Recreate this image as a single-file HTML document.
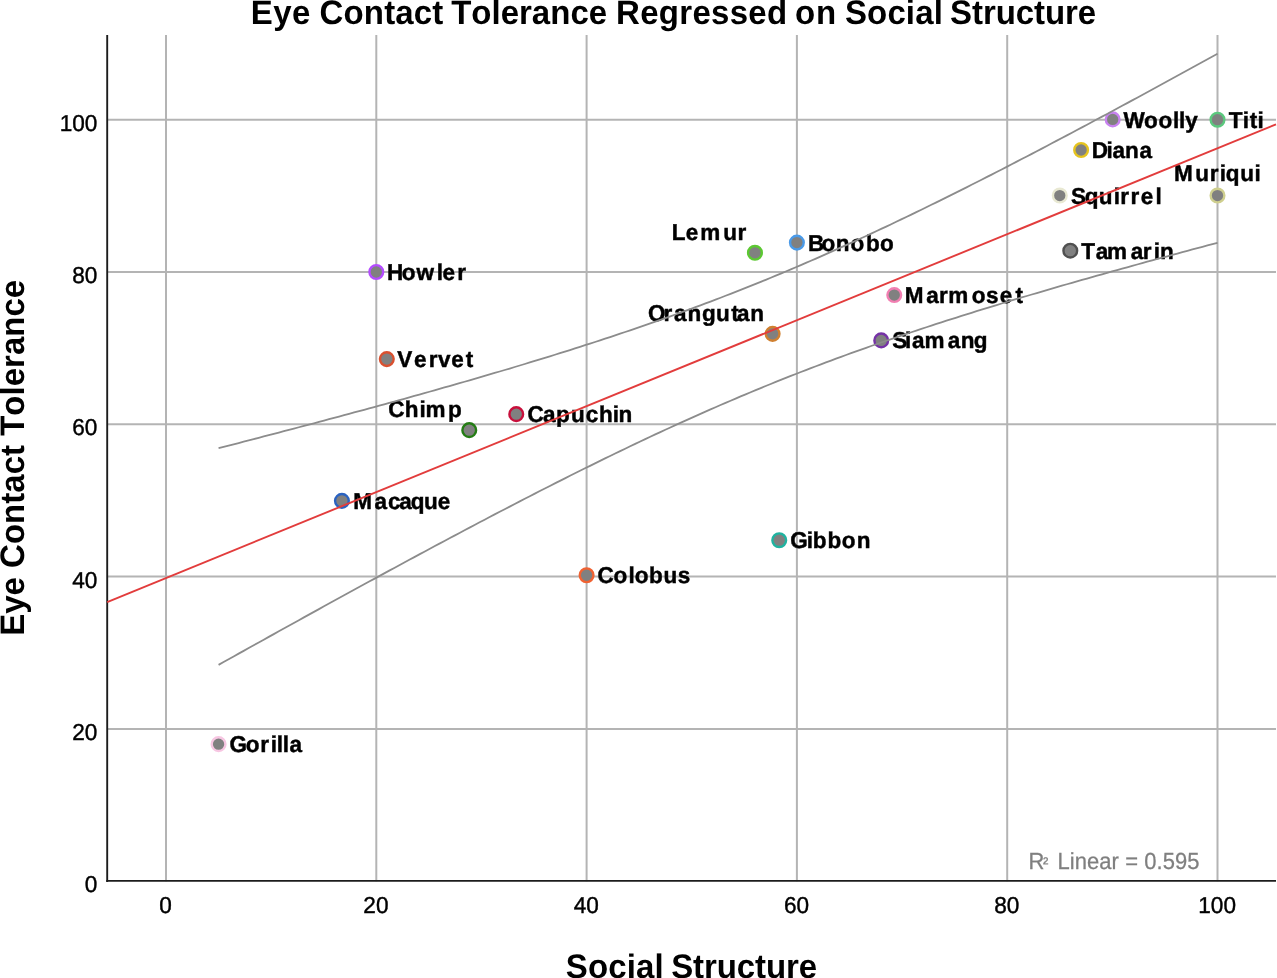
<!DOCTYPE html><html><head><meta charset="utf-8"><title>Eye Contact Tolerance Regressed on Social Structure</title>
<style>html,body{margin:0;padding:0;background:#fff;width:1277px;height:978px;overflow:hidden}svg{display:block}text{font-family:"Liberation Sans",Arial,sans-serif;text-rendering:geometricPrecision;font-kerning:none;font-variant-ligatures:none}</style></head><body>
<svg width="1277" height="978" viewBox="0 0 1277 978">
<rect width="1277" height="978" fill="#fff"/>
<text transform="translate(0,24.3) scale(1,1.03)" font-size="33" font-weight="bold"><tspan x="250.85" letter-spacing="0.429">Eye</tspan> <tspan x="319.55" letter-spacing="0.154">Contact</tspan> <tspan x="451.13" letter-spacing="0.013">Tolerance</tspan> <tspan x="616.09" letter-spacing="0.291">Regressed</tspan> <tspan x="795.01" letter-spacing="0.920">on</tspan> <tspan x="844.95" letter-spacing="0.135">Social</tspan> <tspan x="950.05" letter-spacing="-0.065">Structure</tspan></text>
<g stroke="#b4b4b4" stroke-width="2.0" fill="none"><line x1="166.00" y1="35.0" x2="166.00" y2="881.20"/><line x1="376.30" y1="35.0" x2="376.30" y2="881.20"/><line x1="586.60" y1="35.0" x2="586.60" y2="881.20"/><line x1="796.90" y1="35.0" x2="796.90" y2="881.20"/><line x1="1007.20" y1="35.0" x2="1007.20" y2="881.20"/><line x1="1217.50" y1="35.0" x2="1217.50" y2="881.20"/><line x1="107" y1="728.90" x2="1276.0" y2="728.90"/><line x1="107" y1="576.60" x2="1276.0" y2="576.60"/><line x1="107" y1="424.30" x2="1276.0" y2="424.30"/><line x1="107" y1="272.00" x2="1276.0" y2="272.00"/><line x1="107" y1="119.70" x2="1276.0" y2="119.70"/></g>
<g stroke="#1c1c1c" stroke-width="1.9" fill="none"><line x1="107.2" y1="35.0" x2="107.2" y2="882.10"/><line x1="106.3" y1="880.90" x2="1276.0" y2="880.90"/></g>
<g font-size="22.6" fill="#000" stroke="#000" stroke-width="0.4"><text transform="translate(84.81,892.35) scale(1,1.02)">0</text><text transform="translate(72.24,740.05) scale(1,1.02)">20</text><text transform="translate(72.24,587.75) scale(1,1.02)">40</text><text transform="translate(72.24,435.45) scale(1,1.02)">60</text><text transform="translate(72.24,283.15) scale(1,1.02)">80</text><text transform="translate(59.68,130.85) scale(1,1.02)">100</text><text transform="translate(165.60,913.25) scale(1,1.02)" text-anchor="middle">0</text><text transform="translate(375.90,913.25) scale(1,1.02)" text-anchor="middle">20</text><text transform="translate(586.20,913.25) scale(1,1.02)" text-anchor="middle">40</text><text transform="translate(796.50,913.25) scale(1,1.02)" text-anchor="middle">60</text><text transform="translate(1006.80,913.25) scale(1,1.02)" text-anchor="middle">80</text><text transform="translate(1217.10,913.25) scale(1,1.02)" text-anchor="middle">100</text></g>
<text transform="translate(0,977.7) scale(1,1.03)" font-size="33" font-weight="bold"><tspan x="565.85" letter-spacing="0.115">Social</tspan> <tspan x="671.15" letter-spacing="-0.090">Structure</tspan></text>
<text transform="translate(24.1,635.81) rotate(-90) scale(1,1.03)" font-size="33" font-weight="bold" letter-spacing="0.008"><tspan x="0.00">Eye</tspan> <tspan x="67.92">Contact</tspan> <tspan x="199.98">Tolerance</tspan></text>
<g><circle cx="218.57" cy="744.13" r="6.85" fill="#808080" stroke="#f7c6e2" stroke-width="2.4"/><circle cx="341.92" cy="500.83" r="6.85" fill="#808080" stroke="#2a62c0" stroke-width="2.4"/><circle cx="376.30" cy="272.00" r="6.85" fill="#808080" stroke="#b44cff" stroke-width="2.4"/><circle cx="386.81" cy="359.12" r="6.85" fill="#808080" stroke="#d9502f" stroke-width="2.4"/><circle cx="469.25" cy="430.16" r="6.85" fill="#808080" stroke="#247c14" stroke-width="2.4"/><circle cx="516.25" cy="414.17" r="6.85" fill="#808080" stroke="#c8103c" stroke-width="2.4"/><circle cx="586.60" cy="575.23" r="6.85" fill="#808080" stroke="#f06232" stroke-width="2.4"/><circle cx="779.23" cy="540.20" r="6.85" fill="#808080" stroke="#1fb3a0" stroke-width="2.4"/><circle cx="754.95" cy="252.81" r="6.85" fill="#808080" stroke="#5cc832" stroke-width="2.4"/><circle cx="796.90" cy="242.61" r="6.85" fill="#808080" stroke="#4a9ae8" stroke-width="2.4"/><circle cx="772.61" cy="333.83" r="6.85" fill="#808080" stroke="#d08030" stroke-width="2.4"/><circle cx="894.27" cy="295.07" r="6.85" fill="#808080" stroke="#f27fb2" stroke-width="2.4"/><circle cx="881.23" cy="340.38" r="6.85" fill="#808080" stroke="#7532a6" stroke-width="2.4"/><circle cx="1070.29" cy="250.68" r="6.85" fill="#808080" stroke="#505050" stroke-width="2.4"/><circle cx="1059.78" cy="195.55" r="6.85" fill="#808080" stroke="#e8e8d2" stroke-width="2.4"/><circle cx="1217.50" cy="195.55" r="6.85" fill="#808080" stroke="#cfcf8e" stroke-width="2.4"/><circle cx="1081.12" cy="150.01" r="6.85" fill="#808080" stroke="#e6c41e" stroke-width="2.4"/><circle cx="1112.67" cy="119.40" r="6.85" fill="#808080" stroke="#c882f0" stroke-width="2.4"/><circle cx="1217.50" cy="119.70" r="6.85" fill="#808080" stroke="#5cc87e" stroke-width="2.4"/></g>
<g fill="#000" font-size="22.5" font-weight="bold" stroke="#000" stroke-width="0.45"><text transform="translate(0,752.23) scale(1,1.02)" x="229.56 245.75 260.14 270.75 276.65 282.75 289.47">Gorilla</text><text transform="translate(0,508.93) scale(1,1.02)" x="353.28 374.57 387.95 399.37 410.70 423.93 437.75">Macaque</text><text transform="translate(0,280.10) scale(1,1.02)" x="386.88 401.75 416.54 436.85 442.55 457.14">Howler</text><text transform="translate(0,367.22) scale(1,1.02)" x="397.36 414.05 428.79 437.89 451.25 465.65">Vervet</text><text transform="translate(0,416.90) scale(1,1.02)" x="388.30 404.70 419.45 425.44 448.04">Chimp</text><text transform="translate(0,422.27) scale(1,1.02)" x="527.57 543.07 556.04 571.03 585.65 599.05 612.75 618.44">Capuchin</text><text transform="translate(0,583.33) scale(1,1.02)" x="597.59 613.55 628.45 634.65 648.94 663.53 677.83">Colobus</text><text transform="translate(0,548.30) scale(1,1.02)" x="790.33 806.85 812.84 827.44 841.85 856.74">Gibbon</text><text transform="translate(0,240.20) scale(1,1.02)" x="671.72 685.65 700.14 723.33 737.39">Lemur</text><text transform="translate(0,250.71) scale(1,1.02)" x="807.94 821.45 835.74 850.60 866.04 880.05">Bonobo</text><text transform="translate(0,321.30) scale(1,1.02)" x="647.96 663.49 673.97 687.54 702.10 716.08 731.15 737.07 750.24">Orangutan</text><text transform="translate(0,303.17) scale(1,1.02)" x="904.80 926.32 939.09 948.34 971.75 985.93 999.85 1015.55">Marmoset</text><text transform="translate(0,348.48) scale(1,1.02)" x="892.21 904.95 911.97 924.44 947.87 960.74 973.80">Siamang</text><text transform="translate(0,258.78) scale(1,1.02)" x="1081.19 1095.87 1107.04 1130.87 1142.74 1153.75 1160.04">Tamarin</text><text transform="translate(0,203.65) scale(1,1.02)" x="1071.00 1084.80 1098.73 1113.75 1120.34 1130.54 1140.65 1155.55">Squirrel</text><text transform="translate(0,180.80) scale(1,1.02)" x="1173.96 1195.33 1209.64 1219.65 1225.70 1240.33 1254.55">Muriqui</text><text transform="translate(0,158.11) scale(1,1.02)" x="1091.82 1106.45 1112.57 1124.94 1139.47">Diana</text><text transform="translate(0,127.50) scale(1,1.02)" x="1123.40 1144.05 1158.55 1172.95 1179.05 1185.25">Woolly</text><text transform="translate(0,127.80) scale(1,1.02)" x="1228.75 1242.85 1249.75 1257.55">Titi</text></g>
<g fill="none" stroke="#8c8c8c" stroke-width="1.8"><path d="M218.57,448.23 L223.59,446.93 L228.61,445.63 L233.63,444.33 L238.65,443.03 L243.67,441.72 L248.69,440.42 L253.71,439.11 L258.73,437.80 L263.75,436.49 L268.77,435.18 L273.79,433.86 L278.81,432.55 L283.83,431.23 L288.85,429.90 L293.87,428.58 L298.89,427.25 L303.91,425.92 L308.93,424.59 L313.95,423.26 L318.97,421.92 L323.99,420.58 L329.01,419.24 L334.03,417.90 L339.05,416.55 L344.07,415.20 L349.09,413.85 L354.11,412.49 L359.13,411.13 L364.15,409.77 L369.17,408.41 L374.19,407.04 L379.21,405.67 L384.23,404.29 L389.25,402.91 L394.27,401.53 L399.29,400.15 L404.30,398.76 L409.32,397.36 L414.34,395.97 L419.36,394.56 L424.38,393.16 L429.40,391.75 L434.42,390.33 L439.44,388.92 L444.46,387.49 L449.48,386.06 L454.50,384.63 L459.52,383.19 L464.54,381.75 L469.56,380.30 L474.58,378.85 L479.60,377.39 L484.62,375.93 L489.64,374.46 L494.66,372.98 L499.68,371.50 L504.70,370.01 L509.72,368.52 L514.74,367.01 L519.76,365.51 L524.78,363.99 L529.80,362.47 L534.82,360.94 L539.84,359.41 L544.86,357.87 L549.88,356.31 L554.90,354.76 L559.92,353.19 L564.94,351.62 L569.96,350.03 L574.98,348.44 L580.00,346.84 L585.01,345.23 L590.03,343.61 L595.05,341.99 L600.07,340.35 L605.09,338.70 L610.11,337.05 L615.13,335.38 L620.15,333.70 L625.17,332.02 L630.19,330.32 L635.21,328.61 L640.23,326.89 L645.25,325.16 L650.27,323.42 L655.29,321.66 L660.31,319.89 L665.33,318.12 L670.35,316.33 L675.37,314.52 L680.39,312.71 L685.41,310.88 L690.43,309.04 L695.45,307.18 L700.47,305.32 L705.49,303.44 L710.51,301.54 L715.53,299.64 L720.55,297.72 L725.57,295.78 L730.59,293.83 L735.61,291.87 L740.63,289.89 L745.65,287.90 L750.67,285.90 L755.69,283.88 L760.71,281.85 L765.72,279.80 L770.74,277.74 L775.76,275.67 L780.78,273.58 L785.80,271.47 L790.82,269.36 L795.84,267.22 L800.86,265.08 L805.88,262.92 L810.90,260.75 L815.92,258.56 L820.94,256.36 L825.96,254.14 L830.98,251.92 L836.00,249.68 L841.02,247.42 L846.04,245.16 L851.06,242.88 L856.08,240.59 L861.10,238.28 L866.12,235.96 L871.14,233.64 L876.16,231.29 L881.18,228.94 L886.20,226.58 L891.22,224.20 L896.24,221.81 L901.26,219.42 L906.28,217.01 L911.30,214.59 L916.32,212.16 L921.34,209.72 L926.36,207.27 L931.38,204.81 L936.40,202.34 L941.42,199.86 L946.43,197.37 L951.45,194.88 L956.47,192.37 L961.49,189.85 L966.51,187.33 L971.53,184.80 L976.55,182.26 L981.57,179.71 L986.59,177.16 L991.61,174.59 L996.63,172.02 L1001.65,169.45 L1006.67,166.86 L1011.69,164.27 L1016.71,161.67 L1021.73,159.07 L1026.75,156.46 L1031.77,153.84 L1036.79,151.22 L1041.81,148.59 L1046.83,145.95 L1051.85,143.31 L1056.87,140.67 L1061.89,138.01 L1066.91,135.36 L1071.93,132.69 L1076.95,130.03 L1081.97,127.36 L1086.99,124.68 L1092.01,122.00 L1097.03,119.31 L1102.05,116.62 L1107.07,113.93 L1112.09,111.23 L1117.11,108.52 L1122.13,105.82 L1127.14,103.11 L1132.16,100.39 L1137.18,97.67 L1142.20,94.95 L1147.22,92.22 L1152.24,89.49 L1157.26,86.76 L1162.28,84.03 L1167.30,81.29 L1172.32,78.54 L1177.34,75.80 L1182.36,73.05 L1187.38,70.30 L1192.40,67.54 L1197.42,64.79 L1202.44,62.03 L1207.46,59.26 L1212.48,56.50 L1217.50,53.73"/><path d="M218.57,664.86 L223.59,662.05 L228.61,659.25 L233.63,656.45 L238.65,653.64 L243.67,650.85 L248.69,648.05 L253.71,645.25 L258.73,642.46 L263.75,639.67 L268.77,636.88 L273.79,634.09 L278.81,631.30 L283.83,628.52 L288.85,625.74 L293.87,622.96 L298.89,620.18 L303.91,617.41 L308.93,614.63 L313.95,611.86 L318.97,609.10 L323.99,606.33 L329.01,603.57 L334.03,600.81 L339.05,598.05 L344.07,595.30 L349.09,592.55 L354.11,589.80 L359.13,587.06 L364.15,584.32 L369.17,581.58 L374.19,578.84 L379.21,576.11 L384.23,573.38 L389.25,570.66 L394.27,567.94 L399.29,565.22 L404.30,562.51 L409.32,559.80 L414.34,557.09 L419.36,554.39 L424.38,551.69 L429.40,549.00 L434.42,546.31 L439.44,543.62 L444.46,540.94 L449.48,538.27 L454.50,535.60 L459.52,532.93 L464.54,530.27 L469.56,527.62 L474.58,524.97 L479.60,522.32 L484.62,519.68 L489.64,517.05 L494.66,514.42 L499.68,511.80 L504.70,509.18 L509.72,506.58 L514.74,503.97 L519.76,501.38 L524.78,498.79 L529.80,496.21 L534.82,493.63 L539.84,491.06 L544.86,488.50 L549.88,485.95 L554.90,483.40 L559.92,480.87 L564.94,478.34 L569.96,475.82 L574.98,473.31 L580.00,470.80 L585.01,468.31 L590.03,465.82 L595.05,463.35 L600.07,460.88 L605.09,458.42 L610.11,455.98 L615.13,453.54 L620.15,451.11 L625.17,448.70 L630.19,446.29 L635.21,443.90 L640.23,441.51 L645.25,439.14 L650.27,436.78 L655.29,434.43 L660.31,432.10 L665.33,429.77 L670.35,427.46 L675.37,425.16 L680.39,422.87 L685.41,420.59 L690.43,418.33 L695.45,416.08 L700.47,413.84 L705.49,411.62 L710.51,409.41 L715.53,407.22 L720.55,405.03 L725.57,402.86 L730.59,400.71 L735.61,398.57 L740.63,396.44 L745.65,394.33 L750.67,392.23 L755.69,390.14 L760.71,388.07 L765.72,386.02 L770.74,383.98 L775.76,381.95 L780.78,379.93 L785.80,377.93 L790.82,375.95 L795.84,373.98 L800.86,372.02 L805.88,370.07 L810.90,368.14 L815.92,366.23 L820.94,364.32 L825.96,362.43 L830.98,360.56 L836.00,358.69 L841.02,356.85 L846.04,355.01 L851.06,353.18 L856.08,351.37 L861.10,349.57 L866.12,347.79 L871.14,346.01 L876.16,344.25 L881.18,342.50 L886.20,340.76 L891.22,339.03 L896.24,337.32 L901.26,335.61 L906.28,333.92 L911.30,332.23 L916.32,330.56 L921.34,328.90 L926.36,327.24 L931.38,325.60 L936.40,323.96 L941.42,322.34 L946.43,320.73 L951.45,319.12 L956.47,317.52 L961.49,315.93 L966.51,314.35 L971.53,312.78 L976.55,311.22 L981.57,309.66 L986.59,308.11 L991.61,306.57 L996.63,305.04 L1001.65,303.51 L1006.67,301.99 L1011.69,300.48 L1016.71,298.98 L1021.73,297.48 L1026.75,295.99 L1031.77,294.50 L1036.79,293.02 L1041.81,291.55 L1046.83,290.08 L1051.85,288.61 L1056.87,287.16 L1061.89,285.71 L1066.91,284.26 L1071.93,282.82 L1076.95,281.38 L1081.97,279.95 L1086.99,278.52 L1092.01,277.10 L1097.03,275.68 L1102.05,274.27 L1107.07,272.86 L1112.09,271.46 L1117.11,270.06 L1122.13,268.66 L1127.14,267.27 L1132.16,265.88 L1137.18,264.50 L1142.20,263.12 L1147.22,261.74 L1152.24,260.36 L1157.26,258.99 L1162.28,257.63 L1167.30,256.26 L1172.32,254.90 L1177.34,253.54 L1182.36,252.19 L1187.38,250.84 L1192.40,249.49 L1197.42,248.14 L1202.44,246.80 L1207.46,245.46 L1212.48,244.12 L1217.50,242.79"/></g>
<line x1="107.20" y1="602.07" x2="1276.00" y2="124.35" stroke="#e23c3c" stroke-width="1.9"/>
<text transform="translate(0,869.3) scale(1,1.06)" font-size="22" fill="#7f7f7f" stroke="#7f7f7f" stroke-width="0.25"><tspan x="1028.50">R</tspan><tspan x="1043.00" dy="-0.5" font-size="16">²</tspan> <tspan x="1057.50" dy="0.5" letter-spacing="0.057">Linear = 0.595</tspan></text>
</svg></body></html>
